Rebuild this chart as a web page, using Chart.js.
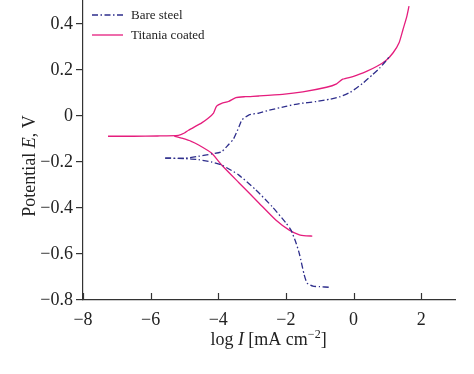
<!DOCTYPE html>
<html>
<head>
<meta charset="utf-8">
<script src="https://cdn.jsdelivr.net/npm/chart.js@4/dist/chart.umd.min.js"></script>
<style>
html,body{margin:0;padding:0;background:#fff;}
#wrap{width:474px;height:374px;position:relative;}
</style>
</head>
<body>
<div id="wrap"><canvas id="c" width="474" height="374"></canvas></div>
<script>
// ---- data (log I in mA cm^-2, potential E in V) ----
const seriesNames = ["Bare steel", "Titania coated"];
const xTicks = [-8, -6, -4, -2, 0, 2];
const yTicks = [-0.8, -0.6, -0.4, -0.2, 0, 0.2, 0.4];

const bareAnodicX = [-5.57, -5.0, -4.58, -4.2, -3.9, -3.7, -3.55, -3.39, -3.3, -3.1, -2.8, -2.5, -2.0, -1.6, -1.1, -0.7, -0.42, -0.1, 0.27, 0.55, 0.77, 0.95, 1.07];
const bareAnodicY = [-0.183, -0.184, -0.175, -0.165, -0.155, -0.125, -0.1, -0.048, -0.017, 0.004, 0.013, 0.025, 0.042, 0.054, 0.063, 0.073, 0.083, 0.103, 0.142, 0.178, 0.208, 0.238, 0.26];

const bareCathodicX = [-5.57, -5.0, -4.58, -4.2, -3.9, -3.39, -2.9, -2.4, -2.0, -1.85, -1.7, -1.6, -1.46, -1.37, -1.2, -1.0, -0.7];
const bareCathodicY = [-0.183, -0.185, -0.19, -0.2, -0.213, -0.257, -0.32, -0.395, -0.465, -0.496, -0.552, -0.6, -0.69, -0.727, -0.74, -0.742, -0.745];

const titaniaAnodicX = [-7.26, -6.5, -5.8, -5.18, -5.0, -4.88, -4.7, -4.49, -4.3, -4.14, -4.05, -3.9, -3.7, -3.48, -3.2, -2.8, -2.1, -1.5, -0.8, -0.5, -0.32, 0.0, 0.4, 0.68, 0.95, 1.17, 1.35, 1.46, 1.57, 1.64];
const titaniaAnodicY = [-0.088, -0.088, -0.087, -0.084, -0.074, -0.062, -0.047, -0.03, -0.01, 0.013, 0.043, 0.055, 0.063, 0.08, 0.084, 0.087, 0.094, 0.105, 0.125, 0.14, 0.16, 0.172, 0.195, 0.215, 0.24, 0.275, 0.32, 0.375, 0.43, 0.478];

const titaniaCathodicX = [-5.3, -5.09, -4.8, -4.58, -4.2, -3.9, -3.39, -2.8, -2.3, -1.9, -1.6, -1.4, -1.22];
const titaniaCathodicY = [-0.087, -0.096, -0.11, -0.126, -0.161, -0.213, -0.29, -0.378, -0.452, -0.496, -0.517, -0.521, -0.522];

const bareColor = "#2e2e8c";
const titaniaColor = "#e51d7d";
const bareDash = [6, 2.5, 1.5, 2.5];
const serif = '"Liberation Serif", "Times New Roman", "DejaVu Serif", serif';

function pts(xs, ys) { return xs.map((x, i) => ({x: x, y: ys[i]})); }
function fmt(v) {
  if (Math.abs(v) < 1e-9) return "0";
  const s = Number.isInteger(v) ? String(Math.abs(v)) : Math.abs(v).toFixed(1);
  return (v < 0 ? "\u2212" : "") + s;
}

const overlay = {
  id: "overlay",
  afterDraw(chart) {
    const ctx = chart.ctx;
    const xs = chart.scales.x;
    const area = chart.chartArea;
    ctx.save();
    // inner x ticks
    ctx.strokeStyle = "#333";
    ctx.lineWidth = 1.2;
    xTicks.forEach(t => {
      const px = Math.round(xs.getPixelForValue(t)) + 0.5;
      ctx.beginPath();
      ctx.moveTo(px, area.bottom);
      ctx.lineTo(px, area.bottom - 7);
      ctx.stroke();
    });
    // legend
    ctx.lineWidth = 1.3;
    ctx.strokeStyle = bareColor;
    ctx.setLineDash(bareDash);
    ctx.beginPath(); ctx.moveTo(92, 15); ctx.lineTo(123, 15); ctx.stroke();
    ctx.setLineDash([]);
    ctx.strokeStyle = titaniaColor;
    ctx.beginPath(); ctx.moveTo(92, 35); ctx.lineTo(123, 35); ctx.stroke();
    ctx.fillStyle = "#222";
    ctx.font = "13px " + serif;
    ctx.textBaseline = "middle";
    ctx.textAlign = "left";
    ctx.fillText(seriesNames[0], 131, 15.5);
    ctx.fillText(seriesNames[1], 131, 35.5);

    // x title: log I [mA cm^-2]
    const f = "18px " + serif, fi = "italic 18px " + serif, fs = "12px " + serif;
    const parts = [["log ", f, 0], ["I", fi, 0], [" [mA cm", f, 0], ["\u22122", fs, -7], ["]", f, 0]];
    let w = 0;
    parts.forEach(p => { ctx.font = p[1]; w += ctx.measureText(p[0]).width; });
    let x = 268.5 - w / 2;
    ctx.textBaseline = "alphabetic";
    parts.forEach(p => { ctx.font = p[1]; ctx.fillText(p[0], x, 345 + p[2]); x += ctx.measureText(p[0]).width; });

    // y title: Potential E, V
    const yparts = [["Potential ", f], ["E", fi], [", V", f]];
    let wy = 0;
    yparts.forEach(p => { ctx.font = p[1]; wy += ctx.measureText(p[0]).width; });
    ctx.translate(35, 166);
    ctx.rotate(-Math.PI / 2);
    let xx = -wy / 2;
    yparts.forEach(p => { ctx.font = p[1]; ctx.fillText(p[0], xx, 0); xx += ctx.measureText(p[0]).width; });
    ctx.restore();
  }
};

const common = {showLine: true, pointRadius: 0, borderWidth: 1.3, tension: 0.2, fill: false};

new Chart(document.getElementById("c"), {
  type: "scatter",
  data: {
    datasets: [
      Object.assign({label: seriesNames[0], data: pts(bareAnodicX, bareAnodicY), borderColor: bareColor, borderDash: bareDash}, common),
      Object.assign({label: seriesNames[0] + " (cathodic)", data: pts(bareCathodicX, bareCathodicY), borderColor: bareColor, borderDash: bareDash}, common),
      Object.assign({label: seriesNames[1], data: pts(titaniaAnodicX, titaniaAnodicY), borderColor: titaniaColor}, common),
      Object.assign({label: seriesNames[1] + " (cathodic)", data: pts(titaniaCathodicX, titaniaCathodicY), borderColor: titaniaColor}, common)
    ]
  },
  options: {
    responsive: false,
    animation: false,
    devicePixelRatio: 1,
    layout: {padding: {top: 1, right: 19, left: 0, bottom: 0}},
    plugins: {legend: {display: false}, tooltip: {enabled: false}},
    scales: {
      x: {
        type: "linear", min: -8, max: 3,
        afterFit(s) { s.height = 74; s.paddingLeft = 0; s.paddingRight = 0; },
        afterBuildTicks(s) { s.ticks = xTicks.map(v => ({value: v})); },
        grid: {drawOnChartArea: false, drawTicks: false, color: "#333"},
        border: {display: true, color: "#333", width: 1.2},
        ticks: {padding: 9, color: "#222", font: {family: serif, size: 18}, callback: v => fmt(v), maxRotation: 0}
      },
      y: {
        type: "linear", min: -0.8, max: 0.5,
        afterFit(s) { s.width = 83; s.paddingTop = 0; s.paddingBottom = 0; },
        afterBuildTicks(s) { s.ticks = yTicks.map(v => ({value: v})); },
        grid: {drawOnChartArea: false, drawTicks: true, tickLength: 7, color: "#333", lineWidth: 1.2},
        border: {display: true, color: "#333", width: 1.2},
        ticks: {padding: 3, color: "#222", font: {family: serif, size: 18}, callback: v => fmt(v)}
      }
    }
  },
  plugins: [overlay]
});
</script>
</body>
</html>
